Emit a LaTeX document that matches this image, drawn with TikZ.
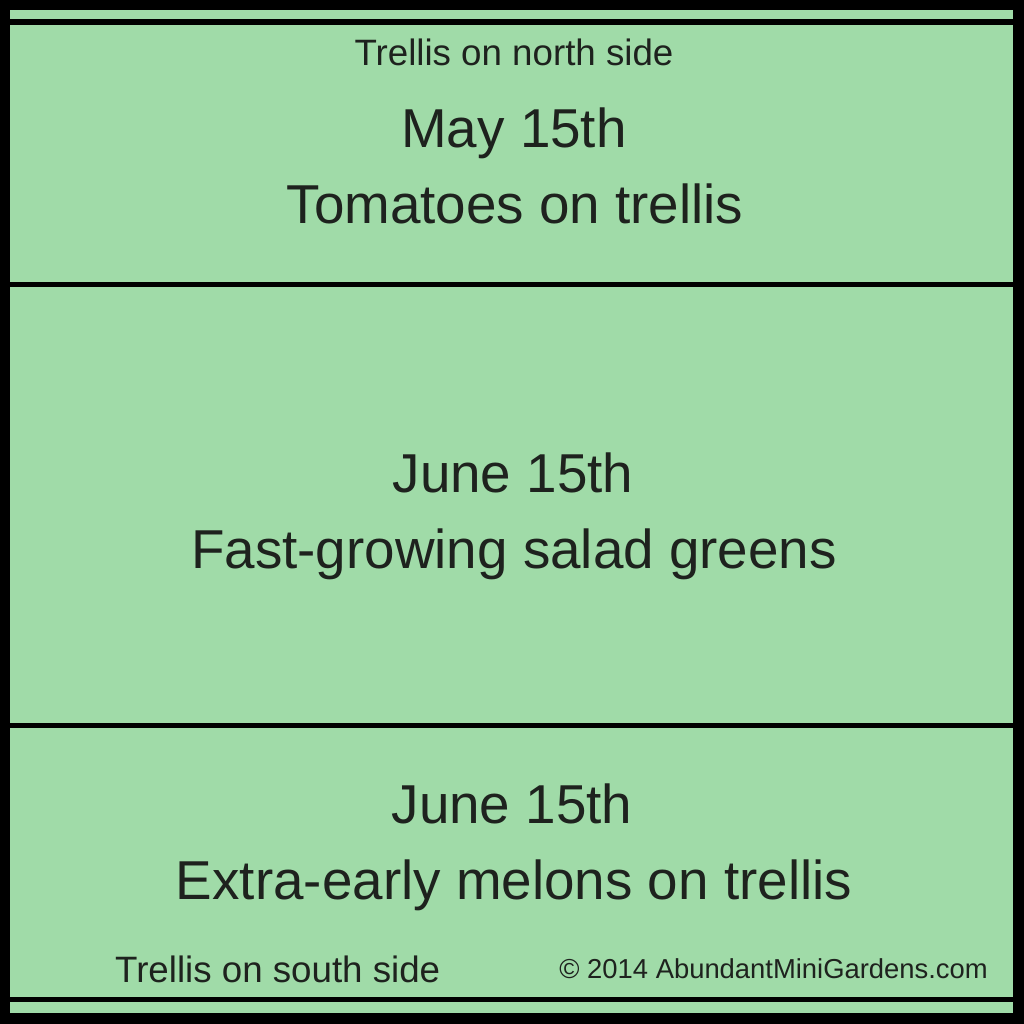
\documentclass[tikz,border=0pt]{standalone}
\usepackage{fontspec}
\setmainfont{Liberation Sans}
\definecolor{bedgreen}{HTML}{A0DBA8}
\definecolor{ink}{RGB}{30,34,30}
\begin{document}
\begin{tikzpicture}[x=1pt,y=-1pt,
  bed/.style={fill=bedgreen,draw=none},
  big/.style={anchor=base,inner sep=0pt,text=ink,font=\fontsize{54.8}{60}\selectfont},
  small/.style={anchor=base,inner sep=0pt,text=ink,font=\fontsize{36.7}{40}\selectfont},
  tiny/.style={anchor=base east,inner sep=0pt,text=ink,font=\fontsize{27.4}{30}\selectfont}]
\fill[black] (0,0) rectangle (1024,1024);
\useasboundingbox (0,0) rectangle (1024,1024);
\fill[bed] (10,10) rectangle (1013,19);
\fill[bed] (10,25) rectangle (1013,282);
\fill[bed] (10,287) rectangle (1013,723);
\fill[bed] (10,728) rectangle (1013,997);
\fill[bed] (10,1002) rectangle (1013,1013);
\node[small] (north) at (514,66) {Trellis on north side};
\node[big] (d1) at (514,148) {May 15th};
\node[big] (c1) at (515,223) {Tomatoes on trellis};
\node[big] (d2) at (513,492) {June 15th};
\node[big] (c2) at (514,568) {Fast-growing salad greens};
\node[big] (d3) at (512,823) {June 15th};
\node[big] (c3) at (514,899) {Extra-early melons on trellis};
\node[small,anchor=base west] (south) at (115,982) {Trellis on south side};
\node[tiny] (copy) at (988,978) {© 2014 AbundantMiniGardens.com};
\end{tikzpicture}
\end{document}
